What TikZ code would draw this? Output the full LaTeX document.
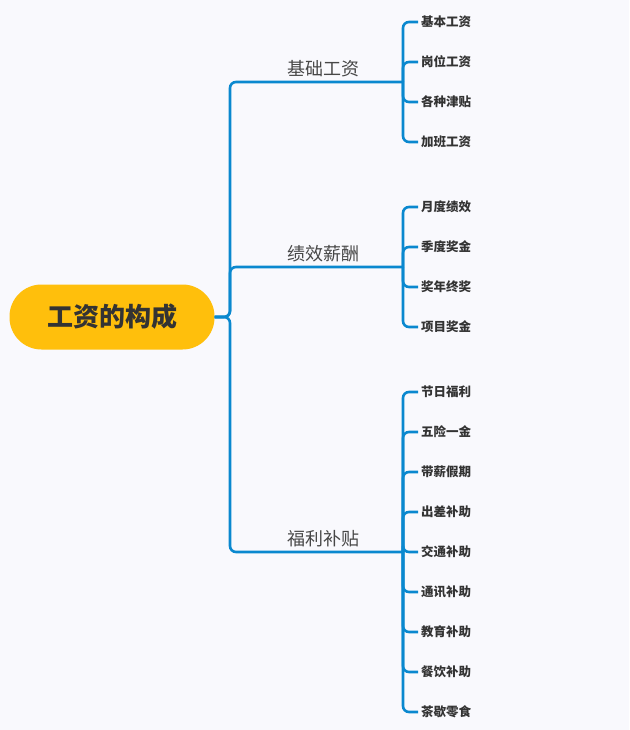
\documentclass[tikz,border=0pt]{standalone}
\usepackage{fontspec}
\setmainfont{Noto Sans CJK SC}
\usetikzlibrary{positioning}
\definecolor{bgcol}{HTML}{F9F9FD}
\definecolor{linkcol}{HTML}{0A88CF}
\definecolor{rootcol}{HTML}{FFBF0C}
\definecolor{txtcol}{HTML}{333333}
\tikzset{
  root/.style={fill=rootcol, rounded corners=32pt, minimum width=205pt, minimum height=65pt,
    font=\fontsize{26}{28}\selectfont\bfseries, text=txtcol},
  link/.style={draw=linkcol, line width=2.6pt, rounded corners=6pt},
  branch/.style={font=\fontsize{18}{20}\selectfont, text=txtcol!90, inner sep=4pt},
  leaf/.style={anchor=west, inner xsep=3pt, font=\fontsize{12.5}{14}\selectfont\bfseries, text=txtcol}
}
\begin{document}
\begin{tikzpicture}[x=1pt,y=-1pt]
	\fill[bgcol] (0,0) rectangle (629,730);
	\node[root] (root) at (112,317) {工资的构成};
	\coordinate (trunk) at (230,317);
	% branches
	\foreach \name/\txt/\y in {jichu/基础工资/82, jixiao/绩效薪酬/267, fuli/福利补贴/552}
	{
		\coordinate (\name) at (403,\y);
		\draw[link] (root.east) -- (trunk) |- node[branch, pos=0.77, above] {\txt} (\name);
	}
	% leaves
	\foreach \txt [count=\i] in {基本工资,岗位工资,各种津贴,加班工资}
	{
		\pgfmathsetmacro\y{22+40*(\i-1)}
		\node[leaf] (jc\i) at (418,\y) {\txt};
		\draw[link] (jichu) |- (jc\i.west);
	}
	\foreach \txt [count=\i] in {月度绩效,季度奖金,奖年终奖,项目奖金}
	{
		\pgfmathsetmacro\y{207+40*(\i-1)}
		\node[leaf] (jx\i) at (418,\y) {\txt};
		\draw[link] (jixiao) |- (jx\i.west);
	}
	\foreach \txt [count=\i] in {节日福利,五险一金,带薪假期,出差补助,交通补助,通讯补助,教育补助,餐饮补助,茶歇零食}
	{
		\pgfmathsetmacro\y{392+40*(\i-1)}
		\node[leaf] (fl\i) at (418,\y) {\txt};
		\draw[link] (fuli) |- (fl\i.west);
	}
\end{tikzpicture}
\end{document}
